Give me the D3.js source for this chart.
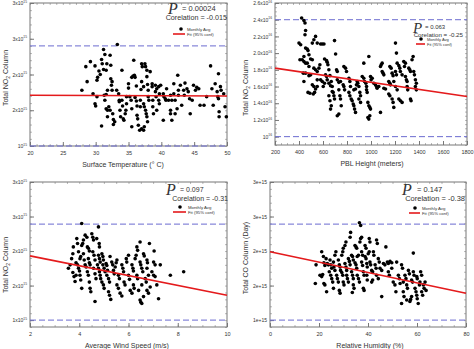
<!DOCTYPE html>
<html>
<head>
<meta charset="utf-8">
<script src="https://cdn.jsdelivr.net/npm/d3@7"></script>
<style>
  body { margin: 0; background: #fff; }
  svg { display: block; }
  text { font-family: "Liberation Sans", Arial, sans-serif; fill: #333; }
</style>
</head>
<body>
<svg id="chart" width="474" height="349"></svg>
<script>
// ---- data ----
// surface temperature (C) vs total NO2 column (x1e15)
var tempPoints = [[27.9,1.78],[28.7,1.90],[28.5,2.11],[29.2,2.18],[29.9,2.12],[30.2,1.92],[30.3,1.96],[30.5,2.05],[30.7,2.00],[29.6,1.73],
  [29.9,1.59],[30.0,1.56],[30.2,1.69],[30.9,2.21],[31.0,2.15],[31.2,2.07],[31.2,2.35],[31.4,2.28],[31.6,2.06],[31.7,2.15],
  [30.9,1.28],[31.3,1.71],[31.6,1.72],[31.8,1.78],[31.4,1.64],[31.6,1.52],[31.8,1.50],[31.8,1.41],[32.0,1.55],[32.2,1.50],
  [32.2,2.27],[32.3,2.13],[32.3,1.94],[32.5,1.90],[32.4,1.85],[32.5,1.78],[32.6,1.45],[32.7,1.37],[32.7,1.30],[32.9,1.34],
  [33.3,2.42],[33.2,1.78],[33.5,1.73],[33.6,1.64],[33.6,1.62],[33.7,1.50],[33.8,1.41],[34.0,2.06],[34.0,1.64],[34.1,1.56],
  [34.2,1.38],[34.3,1.36],[34.5,1.45],[34.6,1.50],[34.7,1.69],[34.7,1.59],[35.0,1.87],[35.0,1.81],[35.2,1.69],[35.4,1.64],
  [35.5,1.52],[35.5,1.96],[35.7,1.98],[35.5,1.27],[35.8,2.20],[35.9,1.99],[36.0,1.96],[36.2,1.84],[36.0,1.68],[36.2,1.63],
  [36.3,1.56],[36.3,1.43],[36.4,1.38],[36.5,1.29],[36.7,1.22],[36.8,1.64],[36.8,1.55],[36.9,1.79],[37.0,2.15],[37.1,2.11],
  [37.0,1.90],[37.3,1.83],[37.3,1.59],[37.4,1.55],[37.5,2.15],[37.6,2.11],[37.6,1.50],[37.7,1.45],[37.8,2.06],[37.8,1.97],
  [37.9,1.86],[38.0,1.78],[38.0,1.69],[38.1,1.64],[37.8,1.41],[37.9,1.34],[37.0,1.24],[37.3,1.22],[37.4,1.27],[38.3,2.04],
  [38.6,1.87],[38.6,1.83],[38.7,1.64],[38.7,1.55],[38.8,1.45],[39.1,1.85],[39.3,1.80],[39.1,1.76],[39.2,1.69],[39.3,1.50],
  [39.6,1.83],[39.7,1.73],[39.6,1.64],[39.7,1.59],[39.9,1.85],[40.3,1.73],[40.4,1.69],[40.3,1.36],[40.6,1.66],[40.7,1.64],
  [40.8,1.80],[41.1,1.64],[41.4,1.50],[41.4,1.71],[41.6,1.64],[41.4,1.45],[41.6,1.36],[41.9,1.87],[41.9,1.73],[42.1,1.64],
  [42.1,1.45],[42.4,1.52],[42.5,1.99],[42.6,1.78],[42.6,1.71],[42.9,1.85],[43.1,1.57],[43.4,1.78],[43.5,1.71],[43.6,1.88],
  [43.9,1.80],[44.1,1.76],[44.3,1.66],[44.4,1.45],[44.7,1.64],[44.9,1.85],[45.2,1.78],[45.4,1.82],[45.7,1.80],[45.9,1.57],
  [46.5,1.57],[46.9,1.69],[47.5,2.12],[47.7,1.80],[47.9,1.57],[48.2,1.87],[48.5,1.76],[48.6,1.69],[48.7,1.66],[48.7,2.01],
  [48.8,1.48],[48.8,1.41],[49.0,1.83],[49.1,1.78],[49.5,1.73],[49.7,1.55],[49.9,1.41]]

// PBL height (m) vs total NO2 column (x1e16)
var pblPoints = [[422,2.42],[441,2.39],[450,2.36],[455,2.27],[450,2.22],[400,2.12],[414,2.10],[408,1.92],[427,1.92],[441,1.96],
  [455,2.06],[469,2.05],[475,2.03],[483,1.98],[497,1.93],[511,1.92],[441,1.90],[455,1.88],[469,1.88],[483,1.84],
  [436,1.76],[455,1.76],[483,1.73],[497,1.74],[441,1.66],[475,1.53],[491,1.52],[511,2.12],[524,2.16],[538,2.20],
  [552,2.12],[552,1.78],[566,1.82],[574,1.86],[524,1.82],[538,1.80],[552,1.68],[511,1.62],[524,1.60],[538,1.57],
  [552,1.60],[519,1.51],[530,1.53],[580,2.11],[594,2.11],[580,1.68],[594,1.66],[602,1.60],[613,1.64],[621,1.74],
  [630,1.72],[635,1.68],[641,1.86],[649,1.80],[658,1.73],[669,1.66],[608,2.11],[613,1.93],[630,1.91],[635,1.89],
  [649,1.64],[663,1.61],[677,1.60],[649,1.49],[658,1.43],[663,1.33],[669,1.37],[677,1.54],[685,1.53],[691,1.49],
  [696,1.45],[696,2.15],[705,1.99],[713,1.80],[719,1.78],[719,1.68],[732,1.65],[746,1.66],[732,1.56],[741,1.49],
  [746,1.45],[752,1.37],[768,1.62],[774,1.60],[780,1.56],[719,1.25],[732,1.27],[774,1.84],[788,1.82],[796,1.78],
  [816,1.70],[824,1.66],[829,1.60],[816,1.53],[824,1.49],[835,1.45],[843,1.43],[852,1.39],[857,1.37],[863,1.33],
  [871,1.29],[857,1.56],[871,1.57],[879,1.62],[885,1.66],[890,1.64],[899,1.60],[907,1.53],[913,1.49],[899,1.45],
  [913,1.41],[927,1.72],[940,1.70],[946,1.66],[957,1.64],[963,1.60],[963,1.56],[968,1.53],[940,1.88],[974,1.41],
  [982,1.37],[990,1.35],[982,1.96],[996,1.72],[1001,1.68],[1010,1.70],[974,1.23],[982,1.21],[990,1.25],[996,1.33],
  [1024,1.64],[1037,1.62],[1046,1.60],[1051,1.58],[1065,1.60],[1079,1.84],[1085,1.86],[1093,1.88],[1093,1.78],[1101,1.76],
  [1107,1.74],[1107,1.58],[1121,1.57],[1148,1.66],[1157,1.64],[1162,1.62],[1079,1.29],[1157,1.84],[1168,1.82],[1176,1.76],
  [1184,1.73],[1190,1.66],[1204,1.78],[1212,1.74],[1204,1.60],[1218,1.56],[1148,1.51],[1157,1.49],[1176,1.45],[1184,1.41],
  [1190,1.35],[1204,2.12],[1212,2.00],[1218,1.88],[1232,1.85],[1240,1.82],[1245,1.78],[1259,1.74],[1232,1.45],[1245,1.43],
  [1259,1.41],[1273,1.90],[1279,1.84],[1287,1.88],[1287,1.72],[1295,1.68],[1301,1.66],[1301,1.60],[1306,1.56],[1315,1.82],
  [1323,1.80],[1329,1.78],[1329,1.45],[1334,1.43],[1342,1.92],[1351,1.96],[1356,1.78],[1362,1.74],[1370,1.68],[1378,1.64],
  [1370,1.60],[1378,1.56]]

// average wind speed (m/s) vs total NO2 column (x1e15)
var windPoints = [[4.10,2.40],[4.78,2.35],[3.56,1.75],[3.63,1.80],[3.69,1.89],[3.74,1.96],[3.76,2.06],[3.74,1.69],[3.79,1.63],[3.83,1.56],
  [3.87,1.65],[3.90,2.18],[3.93,2.11],[3.97,1.99],[3.87,1.83],[3.93,1.80],[3.97,1.75],[4.01,1.71],[4.03,1.89],[4.06,1.92],
  [4.10,2.08],[4.14,2.11],[4.03,1.65],[4.06,1.58],[4.10,1.46],[4.17,1.96],[4.20,1.87],[4.24,1.80],[4.28,1.77],[4.17,2.16],
  [4.24,2.23],[4.31,2.20],[4.33,2.06],[4.37,2.04],[4.41,2.00],[4.37,1.89],[4.41,1.83],[4.44,1.80],[4.33,1.70],[4.37,1.65],
  [4.41,1.55],[4.44,1.46],[4.47,1.41],[4.51,2.25],[4.55,2.20],[4.58,2.16],[4.55,1.99],[4.60,1.94],[4.64,1.87],[4.58,1.75],
  [4.64,1.67],[4.68,1.60],[4.64,1.27],[4.71,2.18],[4.81,2.11],[4.82,2.06],[4.78,1.94],[4.82,1.89],[4.85,1.84],[4.74,1.80],
  [4.78,1.75],[4.82,1.70],[4.85,1.65],[4.87,1.60],[4.92,1.55],[4.92,1.96],[4.96,1.92],[4.98,1.87],[4.96,1.80],[5.01,1.75],
  [5.05,1.70],[4.98,1.51],[5.01,1.46],[5.09,1.82],[5.12,1.79],[5.15,1.72],[5.12,1.65],[5.19,1.60],[5.23,1.55],[5.19,1.41],
  [5.23,1.36],[5.28,1.30],[5.25,1.92],[5.32,1.84],[5.36,1.80],[5.39,1.72],[5.42,1.67],[5.46,1.77],[5.50,1.83],[5.53,1.87],
  [5.53,1.51],[5.59,1.46],[5.59,1.65],[5.63,1.60],[5.66,1.39],[5.73,1.35],[5.73,1.80],[5.77,1.75],[5.80,1.70],[5.82,1.55],
  [5.86,1.51],[5.91,1.89],[5.93,1.84],[6.00,1.65],[6.04,1.59],[6.00,1.94],[6.07,1.43],[6.14,1.39],[6.14,1.80],[6.18,1.75],
  [6.20,1.71],[6.20,1.51],[6.23,1.46],[6.27,1.89],[6.31,1.94],[6.34,1.65],[6.37,1.60],[6.34,2.06],[6.37,2.01],[6.41,1.43],
  [6.47,1.84],[6.50,1.80],[6.54,1.75],[6.58,1.70],[6.47,2.13],[6.61,1.96],[6.64,1.93],[6.68,1.60],[6.72,1.55],[6.75,1.87],
  [6.77,1.83],[6.81,1.65],[6.85,2.11],[6.47,1.29],[6.50,1.26],[6.54,1.24],[6.54,1.51],[6.61,1.34],[6.75,1.43],[6.81,1.39],
  [6.88,1.48],[6.75,1.75],[6.95,1.70],[7.02,1.65],[7.02,1.84],[7.08,1.80],[7.15,1.51],[7.22,1.31],[7.08,1.63],[7.04,2.00],
  [7.29,1.80],[7.70,1.65],[8.24,1.70]]

// relative humidity (%) vs total CO column (x1e15)
var rhPoints = [[18.8,1.80],[18.5,1.53],[21.1,1.99],[21.8,1.92],[22.0,1.83],[22.4,1.79],[20.4,1.65],[21.1,1.63],[21.5,1.66],[22.0,1.53],
  [22.4,1.51],[23.1,1.41],[22.9,1.89],[23.4,1.82],[23.8,1.80],[24.5,1.87],[24.8,1.80],[25.2,1.75],[24.2,1.70],[24.8,1.65],
  [25.2,1.60],[25.6,1.55],[25.9,1.46],[25.9,1.84],[26.1,1.77],[26.5,1.72],[26.5,1.94],[26.9,1.99],[27.2,1.65],[27.5,1.60],
  [27.9,1.55],[27.9,1.87],[28.3,1.80],[28.6,1.77],[28.3,1.43],[28.6,1.39],[28.8,1.72],[29.3,1.69],[29.7,1.65],[29.3,1.94],
  [29.7,1.99],[29.9,2.04],[29.9,1.55],[30.2,1.51],[30.6,1.82],[31.0,1.77],[31.3,1.72],[30.6,2.08],[31.0,2.13],[31.3,1.65],
  [31.6,1.60],[32.0,1.55],[32.0,1.89],[32.4,1.85],[32.7,1.80],[32.7,2.20],[32.9,2.27],[33.3,1.94],[33.7,1.92],[34.0,1.87],
  [33.3,1.70],[33.7,1.65],[34.0,1.60],[34.0,1.51],[34.3,1.46],[33.6,1.40],[34.7,2.08],[35.1,2.06],[35.4,2.04],[34.7,1.83],
  [35.1,1.80],[35.4,1.75],[35.6,1.92],[36.1,1.94],[35.6,1.65],[36.1,1.60],[36.5,1.55],[36.5,2.41],[37.0,2.37],[36.7,2.13],
  [37.0,2.18],[37.4,2.20],[37.4,1.99],[37.8,1.94],[37.4,1.84],[37.8,1.79],[38.1,1.70],[38.4,1.65],[38.1,1.46],[38.4,1.43],
  [38.8,2.08],[39.2,2.04],[38.8,1.92],[39.2,1.89],[39.5,1.82],[39.7,1.77],[39.5,1.65],[39.7,1.58],[40.1,1.96],[40.5,1.99],
  [40.5,2.18],[40.8,2.13],[40.8,1.84],[41.1,1.80],[41.5,1.72],[41.9,1.70],[41.5,1.55],[41.9,1.58],[42.2,1.99],[42.4,1.94],
  [42.9,1.80],[43.3,1.75],[43.5,2.16],[43.8,2.11],[43.5,1.65],[44.2,1.60],[44.2,1.89],[44.6,1.84],[44.9,1.75],[45.6,1.72],
  [45.6,1.34],[46.3,1.82],[46.9,1.80],[47.3,2.06],[47.9,1.84],[48.3,1.82],[48.3,1.70],[48.7,1.65],[49.0,1.85],[49.7,1.83],
  [49.7,1.75],[50.3,1.55],[51.0,1.51],[51.4,1.41],[52.4,1.65],[52.8,1.60],[53.1,1.53],[53.7,1.80],[54.1,1.75],[54.4,1.41],
  [54.7,1.34],[55.1,1.65],[55.5,1.60],[55.8,1.51],[56.1,1.46],[56.5,1.72],[56.9,1.67],[57.1,1.27],[57.4,1.30],[57.8,1.58],
  [58.2,1.55],[58.5,1.97],[58.5,1.70],[58.8,1.65],[59.2,1.46],[59.6,1.41],[59.9,1.36],[60.1,1.31],[60.5,1.24],[59.9,1.63],
  [60.1,1.60],[61.0,1.51],[61.2,1.55],[61.5,1.70],[61.9,1.65],[61.9,1.41],[62.3,1.36],[62.6,1.51],[62.9,1.46],[63.3,1.55],
  [63.7,1.43],[53.7,1.24],[55.8,1.29],[57.8,1.34],[54.4,1.55],[51.7,1.84]]

// fit lines (end points) and dashed reference levels
var tempFit = [[20,1.71],[50,1.70]]
var pblFit = [[200,1.82],[1800,1.48]]
var windFit = [[2,1.93],[10,1.36]]
var rhFit = [[0,1.99],[80,1.39]]
var tempLevels = [2.40, 1.0]
var pblLevels = [2.4, 1.0]
var windLevels = [2.39, 1.0]
var rhLevels = [2.39, 1.0]

var pValues = ["0.00024", "0.063", "0.097", "0.147"]
var correlations = ["-0.015", "-0.25", "-0.31", "-0.38"]

// tick values and labels
var tempTicks = [20, 25, 30, 35, 40, 45, 50]
var pblTicks = [200, 400, 600, 800, 1000, 1200, 1400, 1600, 1800]
var windTicks = [2, 4, 6, 8, 10]
var rhTicks = [0, 20, 40, 60, 80]
var no2Ticks15 = [1, 1.5, 2, 2.5, 3]
var no2Labels15 = ["10", "2x10", "2x10", "3x10", "3x10"]
var no2Ticks16 = [1.0, 1.2, 1.4, 1.6, 1.8, 2.0, 2.2, 2.4, 2.6]
var no2Labels16 = ["10", "1.2x10", "1.4x10", "1.6x10", "1.8x10", "2.0x10", "2.2x10", "2.4x10", "2.6x10"]
var windLabels = ["1x10", "2x10", "2x10", "3x10", "3x10"]
var coLabels = ["1e+15", "2e+15", "2e+15", "3e+15", "3e+15"]

var svg = d3.select("#chart")

// per panel layout; an: P pos, eq pos, corr right end, font sizes, legend pos
var panels = [
  { pts: tempPoints, fit: tempFit, levels: tempLevels, p: pValues[0], r: correlations[0],
    box: [30, 227, 3, 146], xd: [20, 50], yd: [1, 3], xt: tempTicks, xm: 1,
    yt: no2Ticks15, yl: no2Labels15, exp: "15", ym: 0.1,
    xTitle: "Surface Temperature (° C)", xTitleX: 123, yTitle: "no2", yTitleX: 6, yTitleY: 78,
    an: { P: [168, 14, 16], eq: [182, 10.5, 7.5], corr: [227, 20, 7.2], dot: [181, 29], line: [173, 185, 34], leg: 4.3 } },
  { pts: pblPoints, fit: pblFit, levels: pblLevels, p: pValues[1], r: correlations[1],
    box: [275, 467, 3, 145], xd: [200, 1800], yd: [0.9, 2.6], xt: pblTicks, xm: 50,
    yt: no2Ticks16, yl: no2Labels16, exp: "16", ym: 0.05,
    xTitle: "PBL Height (meters)", xTitleX: 372, yTitle: "no2", yTitleX: 246, yTitleY: 88,
    an: { P: [413, 33, 15], eq: [425, 28.5, 6], corr: [463, 36.5, 6.2], dot: [421, 39], line: [416, 425, 44], leg: 4 } },
  { pts: windPoints, fit: windFit, levels: windLevels, p: pValues[2], r: correlations[2],
    box: [30, 227, 182, 327], xd: [2, 10], yd: [0.9, 3.0], xt: windTicks, xm: 0.5,
    yt: no2Ticks15, yl: windLabels, exp: "15", ym: 0.1,
    xTitle: "Average Wind Speed (m/s)", xTitleX: 127, yTitle: "no2", yTitleX: 6, yTitleY: 265,
    an: { P: [166, 195, 16], eq: [180, 192, 7], corr: [228, 201, 7], dot: [180, 207], line: [173, 186, 212], leg: 4.3 } },
  { pts: rhPoints, fit: rhFit, levels: rhLevels, p: pValues[3], r: correlations[3],
    box: [270, 466, 182, 327], xd: [0, 80], yd: [0.9, 3.0], xt: rhTicks, xm: 5,
    yt: no2Ticks15, yl: coLabels, exp: null, ym: 0.1,
    xTitle: "Relative Humidity (%)", xTitleX: 370, yTitle: "Total CO Column (Day)", yTitleX: 246, yTitleY: 258,
    an: { P: [402, 195, 16], eq: [417, 192, 7.5], corr: [465, 201, 7.5], dot: [415, 208], line: [409, 420, 213], leg: 4.3 } }
]

panels.forEach(function (cfg) {
  var L = cfg.box[0], R = cfg.box[1], T = cfg.box[2], B = cfg.box[3]
  var x = d3.scaleLinear().domain(cfg.xd).range([L, R])
  var y = d3.scaleLinear().domain(cfg.yd).range([B, T])
  var g = svg.append("g")

  // minor ticks on all four sides
  var xMinor = d3.range(cfg.xd[0], cfg.xd[1] + 1e-9, cfg.xm)
  var yMinor = d3.range(Math.ceil(cfg.yd[0] / cfg.ym) * cfg.ym, cfg.yd[1] + 1e-9, cfg.ym)
  function minor(gen, tr) {
    var a = g.append("g").attr("transform", tr).call(gen.tickSizeOuter(0).tickFormat(""))
    a.select(".domain").remove()
    a.selectAll("line").attr("stroke", "#888").attr("stroke-width", 0.6)
  }
  minor(d3.axisBottom(x).tickValues(xMinor).tickSizeInner(-2), "translate(0," + B + ")")
  minor(d3.axisTop(x).tickValues(xMinor).tickSizeInner(-2), "translate(0," + T + ")")
  minor(d3.axisLeft(y).tickValues(yMinor).tickSizeInner(-2), "translate(" + L + ",0)")
  minor(d3.axisRight(y).tickValues(yMinor).tickSizeInner(-2), "translate(" + R + ",0)")

  // major ticks with labels
  var xAxis = g.append("g").attr("transform", "translate(0," + B + ")")
    .call(d3.axisBottom(x).tickValues(cfg.xt).tickSizeInner(-4).tickSizeOuter(0).tickPadding(5).tickFormat(d3.format("d")))
  xAxis.select(".domain").remove()
  xAxis.selectAll("line").attr("stroke", "#777")
  xAxis.selectAll("text").attr("font-size", 5.5).attr("fill", "#444")

  var yAxis = g.append("g").attr("transform", "translate(" + L + ",0)")
    .call(d3.axisLeft(y).tickValues(cfg.yt).tickSizeInner(-4).tickSizeOuter(0).tickPadding(3))
  yAxis.select(".domain").remove()
  yAxis.selectAll("line").attr("stroke", "#777")
  yAxis.selectAll("text").attr("font-size", 5).attr("fill", "#444")
    .each(function (d, i) {
      var t = d3.select(this).text(cfg.yl[i])
      if (cfg.exp) t.append("tspan").attr("dy", -2.5).attr("font-size", 3.3).text(cfg.exp)
    })

  // frame
  g.append("rect").attr("x", L).attr("y", T).attr("width", R - L).attr("height", B - T)
    .attr("fill", "none").attr("stroke", "#777").attr("stroke-width", 1)

  // dashed levels
  g.selectAll(".lvl").data(cfg.levels).enter().append("line")
    .attr("x1", L).attr("x2", R).attr("y1", d => y(d)).attr("y2", d => y(d))
    .attr("stroke", "#6b6bd0").attr("stroke-width", 1).attr("stroke-dasharray", "6,3")

  // points
  g.selectAll(".pt").data(cfg.pts).enter().append("circle")
    .attr("cx", d => x(d[0])).attr("cy", d => y(d[1])).attr("r", 1.8).attr("fill", "#000")

  // fit line
  g.append("path").datum(cfg.fit)
    .attr("d", d3.line().x(d => x(d[0])).y(d => y(d[1])))
    .attr("stroke", "#e41a1c").attr("stroke-width", 1.6).attr("fill", "none")

  // axis titles
  g.append("text").attr("x", cfg.xTitleX).attr("y", B + 21).attr("text-anchor", "middle")
    .attr("font-size", 7).text(cfg.xTitle)
  var yt = g.append("text").attr("transform", "translate(" + cfg.yTitleX + "," + cfg.yTitleY + ") rotate(-90)")
    .attr("text-anchor", "middle").attr("dy", "0.35em").attr("font-size", 7)
  if (cfg.yTitle == "no2") {
    yt.append("tspan").text("Total NO")
    yt.append("tspan").attr("dy", 1.8).attr("font-size", 5).text("2")
    yt.append("tspan").attr("dy", -1.8).text(" Column")
  } else {
    yt.text(cfg.yTitle)
  }

  // stats annotation + legend
  var an = cfg.an
  g.append("text").attr("x", an.P[0]).attr("y", an.P[1])
    .style("font-family", "'Liberation Serif', 'Times New Roman', serif").style("font-style", "italic")
    .attr("font-size", an.P[2]).attr("fill", "#222").text("P")
  g.append("text").attr("x", an.eq[0]).attr("y", an.eq[1]).attr("font-size", an.eq[2]).attr("fill", "#222").text("= " + cfg.p)
  g.append("text").attr("x", an.corr[0]).attr("y", an.corr[1]).attr("text-anchor", "end")
    .attr("font-size", an.corr[2]).attr("fill", "#222").text("Corelation = " + cfg.r)
  g.append("circle").attr("cx", an.dot[0]).attr("cy", an.dot[1]).attr("r", 1.8).attr("fill", "#000")
  g.append("text").attr("x", an.line[1] + 2).attr("y", an.dot[1] + 1.5).attr("font-size", an.leg).text("Monthly Avg")
  g.append("line").attr("x1", an.line[0]).attr("x2", an.line[1]).attr("y1", an.line[2]).attr("y2", an.line[2])
    .attr("stroke", "#e41a1c").attr("stroke-width", 1.6)
  g.append("text").attr("x", an.line[1] + 2).attr("y", an.line[2] + 1.5).attr("font-size", an.leg).text("Fit (95% conf)")
})
</script>
</body>
</html>
